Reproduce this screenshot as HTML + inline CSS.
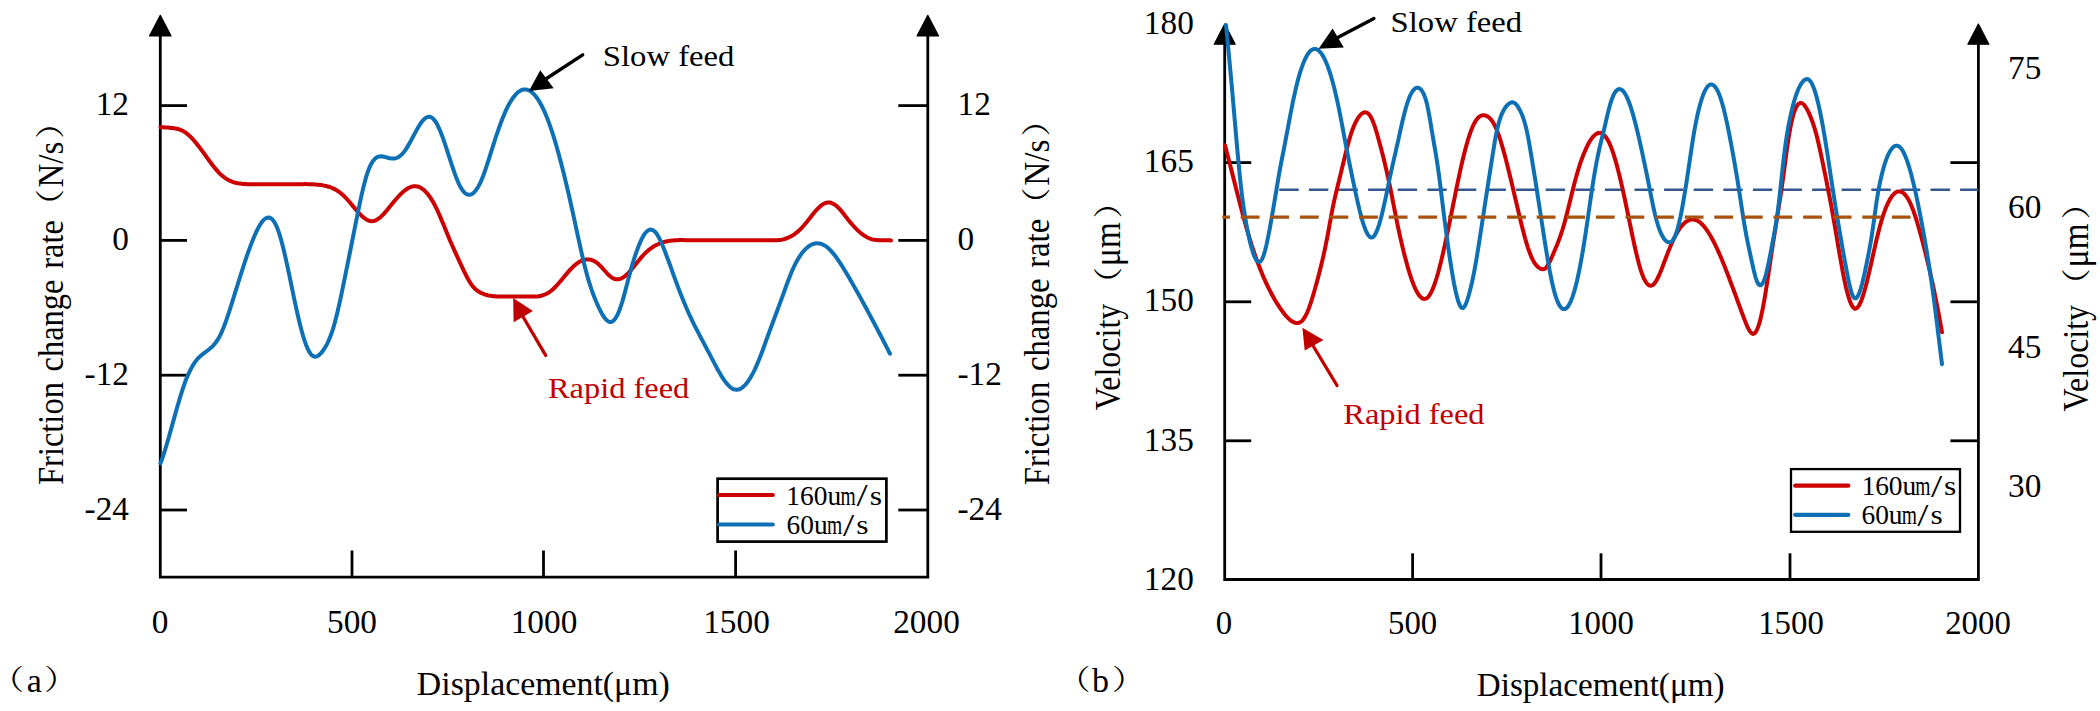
<!DOCTYPE html><html><head><meta charset="utf-8"><title>Figure</title>
<style>html,body{margin:0;padding:0;background:#fff}svg{display:block}</style></head><body>
<svg width="2100" height="711" viewBox="0 0 2100 711" font-family='"Liberation Serif","Noto Serif CJK SC",serif' fill="#000">
<rect width="2100" height="711" fill="#fff"/>
<g id="chart-a">
<path d="M160.3,30 V577.2 H927.8 V30" fill="none" stroke="#000" stroke-width="2.8" stroke-linejoin="miter"/>
<path d="M160.3,15.3 L149.5,36 H171.10000000000002 Z" fill="#000" stroke="#000" stroke-width="1.2" stroke-linejoin="round"/>
<path d="M927.8,15.3 L917.0,36 H938.5999999999999 Z" fill="#000" stroke="#000" stroke-width="1.2" stroke-linejoin="round"/>
<line x1="160.3" y1="105.6" x2="187.0" y2="105.6" stroke="#000" stroke-width="2.8" />
<line x1="898.3" y1="105.6" x2="927.8" y2="105.6" stroke="#000" stroke-width="2.8" />
<line x1="160.3" y1="240.4" x2="187.0" y2="240.4" stroke="#000" stroke-width="2.8" />
<line x1="898.3" y1="240.4" x2="927.8" y2="240.4" stroke="#000" stroke-width="2.8" />
<line x1="160.3" y1="375.2" x2="187.0" y2="375.2" stroke="#000" stroke-width="2.8" />
<line x1="898.3" y1="375.2" x2="927.8" y2="375.2" stroke="#000" stroke-width="2.8" />
<line x1="160.3" y1="510" x2="187.0" y2="510" stroke="#000" stroke-width="2.8" />
<line x1="898.3" y1="510" x2="927.8" y2="510" stroke="#000" stroke-width="2.8" />
<line x1="352" y1="550.5" x2="352" y2="577.2" stroke="#000" stroke-width="2.8" />
<line x1="543.5" y1="550.5" x2="543.5" y2="577.2" stroke="#000" stroke-width="2.8" />
<line x1="735.6" y1="550.5" x2="735.6" y2="577.2" stroke="#000" stroke-width="2.8" />
<path d="M160.5,127.3 L162.0,127.3 L163.5,127.3 L165.0,127.4 L166.5,127.5 L168.0,127.6 L169.5,127.7 L171.0,127.9 L172.5,128.0 L174.0,128.3 L175.5,128.5 L177.0,128.8 L178.5,129.2 L180.0,129.7 L181.5,130.3 L183.0,131.1 L184.5,131.9 L186.0,132.9 L187.5,134.1 L189.0,135.4 L190.5,136.8 L192.0,138.4 L193.5,140.0 L195.0,141.7 L196.5,143.6 L198.0,145.4 L199.5,147.4 L201.0,149.4 L202.5,151.4 L204.0,153.4 L205.5,155.5 L207.0,157.6 L208.5,159.7 L210.0,161.7 L211.5,163.7 L213.0,165.7 L214.5,167.6 L216.0,169.4 L217.5,171.1 L219.0,172.8 L220.5,174.3 L222.0,175.6 L223.5,176.8 L225.0,178.0 L226.5,178.9 L228.0,179.8 L229.5,180.6 L231.0,181.2 L232.5,181.8 L234.0,182.3 L235.5,182.8 L237.0,183.1 L238.5,183.4 L240.0,183.6 L241.5,183.8 L243.0,184.0 L244.5,184.1 L246.0,184.1 L247.5,184.2 L249.0,184.2 L250.5,184.2 L252.0,184.2 L253.5,184.2 L255.0,184.2 L256.5,184.2 L258.0,184.2 L259.5,184.2 L261.0,184.2 L262.5,184.2 L264.0,184.2 L265.5,184.2 L267.0,184.2 L268.5,184.2 L270.0,184.2 L271.5,184.2 L273.0,184.2 L274.5,184.2 L276.0,184.2 L277.5,184.2 L279.0,184.2 L280.5,184.2 L282.0,184.2 L283.5,184.2 L285.0,184.2 L286.5,184.2 L288.0,184.2 L289.5,184.2 L291.0,184.2 L292.5,184.2 L294.0,184.2 L295.5,184.2 L297.0,184.2 L298.5,184.2 L300.0,184.2 L301.5,184.2 L303.0,184.2 L304.5,184.1 L306.0,184.1 L307.5,184.2 L309.0,184.2 L310.5,184.2 L312.0,184.3 L313.5,184.3 L315.0,184.4 L316.5,184.6 L318.0,184.7 L319.5,184.9 L321.0,185.1 L322.5,185.3 L324.0,185.6 L325.5,185.9 L327.0,186.3 L328.5,186.7 L330.0,187.2 L331.5,187.7 L333.0,188.4 L334.5,189.1 L336.0,189.9 L337.5,190.8 L339.0,191.8 L340.5,192.9 L342.0,194.2 L343.5,195.5 L345.0,197.0 L346.5,198.6 L348.0,200.3 L349.5,202.0 L351.0,203.8 L352.5,205.6 L354.0,207.4 L355.5,209.2 L357.0,211.0 L358.5,212.6 L360.0,214.2 L361.5,215.7 L363.0,217.0 L364.5,218.2 L366.0,219.2 L367.5,220.1 L369.0,220.7 L370.5,221.0 L372.0,221.2 L373.5,221.0 L375.0,220.6 L376.5,219.9 L378.0,219.0 L379.5,217.9 L381.0,216.7 L382.5,215.2 L384.0,213.6 L385.5,211.9 L387.0,210.2 L388.5,208.3 L390.0,206.5 L391.5,204.6 L393.0,202.8 L394.5,201.0 L396.0,199.2 L397.5,197.5 L399.0,195.9 L400.5,194.3 L402.0,192.9 L403.5,191.5 L405.0,190.3 L406.5,189.2 L408.0,188.3 L409.5,187.5 L411.0,186.9 L412.5,186.4 L414.0,186.2 L415.5,186.2 L417.0,186.4 L418.5,186.8 L420.0,187.4 L421.5,188.3 L423.0,189.3 L424.5,190.6 L426.0,192.1 L427.5,193.8 L429.0,195.7 L430.5,197.9 L432.0,200.2 L433.5,202.8 L435.0,205.6 L436.5,208.5 L438.0,211.7 L439.5,215.1 L441.0,218.6 L442.5,222.2 L444.0,225.8 L445.5,229.5 L447.0,233.2 L448.5,236.8 L450.0,240.4 L451.5,243.8 L453.0,247.3 L454.5,250.6 L456.0,253.9 L457.5,257.2 L459.0,260.5 L460.5,263.7 L462.0,266.9 L463.5,270.1 L465.0,273.2 L466.5,276.2 L468.0,279.0 L469.5,281.6 L471.0,283.9 L472.5,286.0 L474.0,287.8 L475.5,289.2 L477.0,290.5 L478.5,291.5 L480.0,292.4 L481.5,293.1 L483.0,293.7 L484.5,294.3 L486.0,294.8 L487.5,295.2 L489.0,295.5 L490.5,295.8 L492.0,296.0 L493.5,296.2 L495.0,296.3 L496.5,296.4 L498.0,296.5 L499.5,296.5 L501.0,296.5 L502.5,296.5 L504.0,296.5 L505.5,296.5 L507.0,296.5 L508.5,296.5 L510.0,296.4 L511.5,296.4 L513.0,296.4 L514.5,296.4 L516.0,296.4 L517.5,296.4 L519.0,296.4 L520.5,296.4 L522.0,296.4 L523.5,296.4 L525.0,296.5 L526.5,296.5 L528.0,296.6 L529.5,296.6 L531.0,296.6 L532.5,296.6 L534.0,296.6 L535.5,296.6 L537.0,296.4 L538.5,296.3 L540.0,296.0 L541.5,295.7 L543.0,295.2 L544.5,294.7 L546.0,294.0 L547.5,293.3 L549.0,292.3 L550.5,291.3 L552.0,290.1 L553.5,288.7 L555.0,287.3 L556.5,285.7 L558.0,284.0 L559.5,282.3 L561.0,280.6 L562.5,278.8 L564.0,276.9 L565.5,275.1 L567.0,273.4 L568.5,271.6 L570.0,269.9 L571.5,268.3 L573.0,266.8 L574.5,265.5 L576.0,264.2 L577.5,263.1 L579.0,262.1 L580.5,261.3 L582.0,260.6 L583.5,260.0 L585.0,259.7 L586.5,259.4 L588.0,259.4 L589.5,259.5 L591.0,259.8 L592.5,260.3 L594.0,261.0 L595.5,261.8 L597.0,262.9 L598.5,264.1 L600.0,265.6 L601.5,267.2 L603.0,268.8 L604.5,270.5 L606.0,272.2 L607.5,273.8 L609.0,275.3 L610.5,276.6 L612.0,277.7 L613.5,278.5 L615.0,279.0 L616.5,279.3 L618.0,279.3 L619.5,279.1 L621.0,278.6 L622.5,277.8 L624.0,276.8 L625.5,275.7 L627.0,274.3 L628.5,272.8 L630.0,271.2 L631.5,269.5 L633.0,267.7 L634.5,265.8 L636.0,264.0 L637.5,262.1 L639.0,260.2 L640.5,258.4 L642.0,256.6 L643.5,255.0 L645.0,253.4 L646.5,252.0 L648.0,250.6 L649.5,249.4 L651.0,248.3 L652.5,247.2 L654.0,246.3 L655.5,245.4 L657.0,244.7 L658.5,244.0 L660.0,243.3 L661.5,242.8 L663.0,242.3 L664.5,241.9 L666.0,241.5 L667.5,241.2 L669.0,240.9 L670.5,240.7 L672.0,240.5 L673.5,240.4 L675.0,240.3 L676.5,240.2 L678.0,240.2 L679.5,240.1 L681.0,240.1 L682.5,240.1 L684.0,240.1 L685.5,240.2 L687.0,240.2 L688.5,240.2 L690.0,240.2 L691.5,240.2 L693.0,240.2 L694.5,240.3 L696.0,240.3 L697.5,240.3 L699.0,240.2 L700.5,240.2 L702.0,240.2 L703.5,240.2 L705.0,240.2 L706.5,240.2 L708.0,240.2 L709.5,240.2 L711.0,240.2 L712.5,240.2 L714.0,240.2 L715.5,240.2 L717.0,240.2 L718.5,240.2 L720.0,240.2 L721.5,240.2 L723.0,240.2 L724.5,240.2 L726.0,240.2 L727.5,240.2 L729.0,240.2 L730.5,240.2 L732.0,240.2 L733.5,240.2 L735.0,240.2 L736.5,240.2 L738.0,240.2 L739.5,240.2 L741.0,240.2 L742.5,240.2 L744.0,240.2 L745.5,240.2 L747.0,240.2 L748.5,240.2 L750.0,240.2 L751.5,240.2 L753.0,240.2 L754.5,240.2 L756.0,240.2 L757.5,240.2 L759.0,240.2 L760.5,240.2 L762.0,240.2 L763.5,240.2 L765.0,240.2 L766.5,240.2 L768.0,240.2 L769.5,240.2 L771.0,240.2 L772.5,240.2 L774.0,240.3 L775.5,240.2 L777.0,240.2 L778.5,240.1 L780.0,239.9 L781.5,239.7 L783.0,239.4 L784.5,239.0 L786.0,238.5 L787.5,238.0 L789.0,237.3 L790.5,236.6 L792.0,235.8 L793.5,234.8 L795.0,233.8 L796.5,232.6 L798.0,231.4 L799.5,230.1 L801.0,228.6 L802.5,227.0 L804.0,225.3 L805.5,223.5 L807.0,221.7 L808.5,219.8 L810.0,217.9 L811.5,216.0 L813.0,214.1 L814.5,212.3 L816.0,210.5 L817.5,208.9 L819.0,207.4 L820.5,206.1 L822.0,204.9 L823.5,203.9 L825.0,203.2 L826.5,202.7 L828.0,202.5 L829.5,202.5 L831.0,202.8 L832.5,203.4 L834.0,204.2 L835.5,205.2 L837.0,206.4 L838.5,207.8 L840.0,209.4 L841.5,211.2 L843.0,213.1 L844.5,215.0 L846.0,216.9 L847.5,218.9 L849.0,220.8 L850.5,222.6 L852.0,224.3 L853.5,226.0 L855.0,227.6 L856.5,229.1 L858.0,230.6 L859.5,232.0 L861.0,233.2 L862.5,234.4 L864.0,235.5 L865.5,236.4 L867.0,237.3 L868.5,238.0 L870.0,238.7 L871.5,239.2 L873.0,239.6 L874.5,239.8 L876.0,240.0 L877.5,240.1 L879.0,240.2 L880.5,240.2 L882.0,240.2 L883.5,240.2 L885.0,240.2 L886.5,240.2 L888.0,240.2 L889.5,240.3 L891.0,240.4" fill="none" stroke="#CC0000" stroke-width="4.0" stroke-linecap="round" stroke-linejoin="round"/>
<path d="M160.5,463.4 L162.0,459.3 L163.5,454.8 L165.0,450.1 L166.5,445.2 L168.0,440.1 L169.5,434.8 L171.0,429.4 L172.5,424.0 L174.0,418.6 L175.5,413.2 L177.0,407.9 L178.5,402.7 L180.0,397.6 L181.5,392.8 L183.0,388.2 L184.5,383.8 L186.0,379.8 L187.5,376.1 L189.0,372.8 L190.5,369.7 L192.0,366.9 L193.5,364.4 L195.0,362.1 L196.5,360.1 L198.0,358.4 L199.5,356.9 L201.0,355.5 L202.5,354.3 L204.0,353.2 L205.5,352.1 L207.0,351.0 L208.5,349.8 L210.0,348.6 L211.5,347.3 L213.0,345.8 L214.5,344.1 L216.0,342.2 L217.5,340.0 L219.0,337.5 L220.5,334.6 L222.0,331.3 L223.5,327.7 L225.0,323.8 L226.5,319.6 L228.0,315.2 L229.5,310.6 L231.0,305.9 L232.5,301.1 L234.0,296.3 L235.5,291.4 L237.0,286.6 L238.5,281.8 L240.0,277.0 L241.5,272.3 L243.0,267.6 L244.5,263.0 L246.0,258.5 L247.5,254.2 L249.0,249.9 L250.5,245.9 L252.0,241.9 L253.5,238.2 L255.0,234.7 L256.5,231.4 L258.0,228.4 L259.5,225.7 L261.0,223.3 L262.5,221.3 L264.0,219.6 L265.5,218.5 L267.0,217.7 L268.5,217.5 L270.0,217.8 L271.5,218.7 L273.0,220.2 L274.5,222.3 L276.0,225.1 L277.5,228.6 L279.0,232.8 L280.5,237.7 L282.0,243.1 L283.5,249.0 L285.0,255.4 L286.5,262.1 L288.0,269.0 L289.5,276.1 L291.0,283.4 L292.5,290.6 L294.0,297.8 L295.5,304.9 L297.0,311.7 L298.5,318.3 L300.0,324.5 L301.5,330.3 L303.0,335.6 L304.5,340.4 L306.0,344.7 L307.5,348.3 L309.0,351.4 L310.5,353.7 L312.0,355.4 L313.5,356.3 L315.0,356.7 L316.5,356.5 L318.0,355.8 L319.5,354.7 L321.0,353.2 L322.5,351.4 L324.0,349.2 L325.5,346.8 L327.0,344.1 L328.5,340.9 L330.0,337.4 L331.5,333.3 L333.0,328.8 L334.5,323.7 L336.0,318.1 L337.5,312.0 L339.0,305.4 L340.5,298.6 L342.0,291.5 L343.5,284.2 L345.0,276.8 L346.5,269.4 L348.0,262.0 L349.5,254.5 L351.0,247.0 L352.5,239.4 L354.0,231.9 L355.5,224.4 L357.0,216.9 L358.5,209.5 L360.0,202.3 L361.5,195.4 L363.0,188.9 L364.5,182.9 L366.0,177.4 L367.5,172.6 L369.0,168.6 L370.5,165.2 L372.0,162.5 L373.5,160.4 L375.0,158.7 L376.5,157.6 L378.0,156.8 L379.5,156.4 L381.0,156.3 L382.5,156.4 L384.0,156.7 L385.5,157.1 L387.0,157.5 L388.5,158.0 L390.0,158.3 L391.5,158.6 L393.0,158.6 L394.5,158.5 L396.0,158.1 L397.5,157.6 L399.0,156.7 L400.5,155.6 L402.0,154.2 L403.5,152.6 L405.0,150.6 L406.5,148.4 L408.0,145.9 L409.5,143.3 L411.0,140.6 L412.5,137.7 L414.0,134.9 L415.5,132.1 L417.0,129.4 L418.5,126.8 L420.0,124.4 L421.5,122.2 L423.0,120.4 L424.5,118.8 L426.0,117.7 L427.5,117.0 L429.0,116.7 L430.5,117.0 L432.0,117.8 L433.5,119.1 L435.0,120.9 L436.5,123.2 L438.0,126.1 L439.5,129.3 L441.0,133.0 L442.5,136.9 L444.0,141.1 L445.5,145.6 L447.0,150.1 L448.5,154.8 L450.0,159.4 L451.5,164.0 L453.0,168.5 L454.5,172.8 L456.0,176.9 L457.5,180.7 L459.0,184.1 L460.5,187.1 L462.0,189.5 L463.5,191.5 L465.0,193.1 L466.5,194.1 L468.0,194.7 L469.5,194.8 L471.0,194.5 L472.5,193.7 L474.0,192.5 L475.5,190.8 L477.0,188.7 L478.5,186.2 L480.0,183.3 L481.5,180.0 L483.0,176.3 L484.5,172.2 L486.0,167.9 L487.5,163.4 L489.0,158.7 L490.5,153.9 L492.0,149.2 L493.5,144.4 L495.0,139.7 L496.5,135.2 L498.0,130.8 L499.5,126.5 L501.0,122.4 L502.5,118.6 L504.0,114.9 L505.5,111.4 L507.0,108.2 L508.5,105.2 L510.0,102.5 L511.5,100.1 L513.0,97.8 L514.5,95.9 L516.0,94.2 L517.5,92.7 L519.0,91.5 L520.5,90.6 L522.0,89.9 L523.5,89.5 L525.0,89.4 L526.5,89.6 L528.0,90.0 L529.5,90.6 L531.0,91.6 L532.5,92.8 L534.0,94.3 L535.5,96.0 L537.0,98.0 L538.5,100.2 L540.0,102.7 L541.5,105.5 L543.0,108.5 L544.5,111.7 L546.0,115.2 L547.5,118.9 L549.0,122.9 L550.5,127.1 L552.0,131.6 L553.5,136.2 L555.0,141.1 L556.5,146.2 L558.0,151.6 L559.5,157.1 L561.0,162.7 L562.5,168.6 L564.0,174.6 L565.5,180.7 L567.0,187.0 L568.5,193.5 L570.0,200.0 L571.5,206.7 L573.0,213.5 L574.5,220.4 L576.0,227.3 L577.5,234.3 L579.0,241.2 L580.5,248.0 L582.0,254.7 L583.5,261.1 L585.0,267.2 L586.5,273.0 L588.0,278.4 L589.5,283.4 L591.0,288.0 L592.5,292.3 L594.0,296.3 L595.5,300.0 L597.0,303.6 L598.5,306.9 L600.0,310.0 L601.5,312.9 L603.0,315.5 L604.5,317.7 L606.0,319.5 L607.5,320.9 L609.0,321.8 L610.5,322.0 L612.0,321.7 L613.5,320.7 L615.0,319.0 L616.5,316.7 L618.0,313.7 L619.5,310.0 L621.0,305.7 L622.5,300.9 L624.0,295.6 L625.5,290.0 L627.0,284.3 L628.5,278.6 L630.0,272.9 L631.5,267.5 L633.0,262.3 L634.5,257.6 L636.0,253.1 L637.5,249.0 L639.0,245.1 L640.5,241.6 L642.0,238.4 L643.5,235.7 L645.0,233.5 L646.5,231.7 L648.0,230.5 L649.5,229.8 L651.0,229.6 L652.5,230.0 L654.0,230.9 L655.5,232.3 L657.0,234.3 L658.5,236.8 L660.0,239.7 L661.5,243.0 L663.0,246.5 L664.5,250.3 L666.0,254.2 L667.5,258.2 L669.0,262.3 L670.5,266.4 L672.0,270.6 L673.5,274.8 L675.0,278.9 L676.5,283.0 L678.0,287.1 L679.5,291.0 L681.0,294.8 L682.5,298.6 L684.0,302.3 L685.5,305.8 L687.0,309.3 L688.5,312.7 L690.0,316.0 L691.5,319.2 L693.0,322.3 L694.5,325.3 L696.0,328.3 L697.5,331.2 L699.0,334.1 L700.5,337.0 L702.0,339.8 L703.5,342.6 L705.0,345.4 L706.5,348.3 L708.0,351.1 L709.5,353.9 L711.0,356.8 L712.5,359.7 L714.0,362.6 L715.5,365.4 L717.0,368.2 L718.5,371.0 L720.0,373.6 L721.5,376.1 L723.0,378.4 L724.5,380.6 L726.0,382.6 L727.5,384.4 L729.0,386.0 L730.5,387.4 L732.0,388.4 L733.5,389.2 L735.0,389.6 L736.5,389.8 L738.0,389.6 L739.5,389.2 L741.0,388.4 L742.5,387.4 L744.0,386.1 L745.5,384.6 L747.0,382.8 L748.5,380.7 L750.0,378.4 L751.5,375.8 L753.0,373.1 L754.5,370.1 L756.0,366.8 L757.5,363.4 L759.0,359.8 L760.5,356.0 L762.0,352.0 L763.5,348.0 L765.0,343.9 L766.5,339.7 L768.0,335.5 L769.5,331.4 L771.0,327.3 L772.5,323.2 L774.0,319.2 L775.5,315.2 L777.0,311.2 L778.5,307.1 L780.0,303.1 L781.5,299.0 L783.0,294.8 L784.5,290.7 L786.0,286.5 L787.5,282.5 L789.0,278.5 L790.5,274.7 L792.0,271.1 L793.5,267.7 L795.0,264.6 L796.5,261.7 L798.0,259.0 L799.5,256.6 L801.0,254.4 L802.5,252.4 L804.0,250.7 L805.5,249.1 L807.0,247.7 L808.5,246.5 L810.0,245.5 L811.5,244.6 L813.0,244.0 L814.5,243.6 L816.0,243.3 L817.5,243.3 L819.0,243.4 L820.5,243.7 L822.0,244.2 L823.5,244.9 L825.0,245.7 L826.5,246.7 L828.0,248.0 L829.5,249.3 L831.0,250.9 L832.5,252.6 L834.0,254.4 L835.5,256.3 L837.0,258.4 L838.5,260.6 L840.0,262.8 L841.5,265.1 L843.0,267.5 L844.5,270.0 L846.0,272.5 L847.5,275.0 L849.0,277.6 L850.5,280.1 L852.0,282.7 L853.5,285.4 L855.0,288.0 L856.5,290.7 L858.0,293.3 L859.5,296.0 L861.0,298.8 L862.5,301.5 L864.0,304.2 L865.5,307.0 L867.0,309.8 L868.5,312.6 L870.0,315.4 L871.5,318.2 L873.0,321.0 L874.5,323.9 L876.0,326.7 L877.5,329.6 L879.0,332.5 L880.5,335.3 L882.0,338.2 L883.5,341.1 L885.0,344.0 L886.5,346.9 L888.0,349.9 L889.5,352.8 L890.0,353.7" fill="none" stroke="#0E70B4" stroke-width="4.0" stroke-linecap="round" stroke-linejoin="round"/>
<text transform="translate(129,115.3) scale(1.0,1)" font-size="33.3" text-anchor="end" >12</text>
<text transform="translate(957.5,115.3) scale(1.0,1)" font-size="33.3" text-anchor="start" >12</text>
<text transform="translate(129,250.1) scale(1.0,1)" font-size="33.3" text-anchor="end" >0</text>
<text transform="translate(957.5,250.1) scale(1.0,1)" font-size="33.3" text-anchor="start" >0</text>
<text transform="translate(129,384.9) scale(1.0,1)" font-size="33.3" text-anchor="end" >-12</text>
<text transform="translate(957.5,384.9) scale(1.0,1)" font-size="33.3" text-anchor="start" >-12</text>
<text transform="translate(129,519.7) scale(1.0,1)" font-size="33.3" text-anchor="end" >-24</text>
<text transform="translate(957.5,519.7) scale(1.0,1)" font-size="33.3" text-anchor="start" >-24</text>
<text transform="translate(160,632.6) scale(1.0,1)" font-size="33.3" text-anchor="middle" >0</text>
<text transform="translate(352,632.6) scale(1.0,1)" font-size="33.3" text-anchor="middle" >500</text>
<text transform="translate(544,632.6) scale(1.0,1)" font-size="33.3" text-anchor="middle" >1000</text>
<text transform="translate(736.5,632.6) scale(1.0,1)" font-size="33.3" text-anchor="middle" >1500</text>
<text transform="translate(926.5,632.6) scale(1.0,1)" font-size="33.3" text-anchor="middle" >2000</text>
<text transform="translate(543.3,695.2) scale(1.016,1)" font-size="33.3" text-anchor="middle" >Displacement(μm)</text>
<text font-size="34" aria-label="（a）"><tspan x="-8.9" y="689.7" font-family='"Noto Serif CJK SC","Liberation Serif",serif' font-size="28.2" textLength="33" lengthAdjust="spacingAndGlyphs">（</tspan><tspan x="26.8" y="692">a</tspan><tspan x="44.3" y="689.7" font-family='"Noto Serif CJK SC","Liberation Serif",serif' font-size="28.2" textLength="33" lengthAdjust="spacingAndGlyphs">）</tspan></text>
<text transform="translate(62.8,485) rotate(-90) scale(1,1.1)" font-size="32.5" word-spacing="2.5" aria-label="Friction change rate（N/s）"><tspan x="0" y="0">Friction change rate</tspan><tspan x="263" y="-1.2" font-family='"Noto Serif CJK SC","Liberation Serif",serif' font-size="26.5" textLength="33" lengthAdjust="spacingAndGlyphs">（</tspan><tspan x="297.5" y="0" font-size="33">N/s</tspan><tspan x="346.3" y="-1.2" font-family='"Noto Serif CJK SC","Liberation Serif",serif' font-size="26.5" textLength="33" lengthAdjust="spacingAndGlyphs">）</tspan></text>
<text transform="translate(1048.8,485.3) rotate(-90) scale(1,1.1)" font-size="32.72" word-spacing="2.5" aria-label="Friction change rate（N/s）"><tspan x="0" y="0">Friction change rate</tspan><tspan x="264.9" y="-1.2" font-family='"Noto Serif CJK SC","Liberation Serif",serif' font-size="26.5" textLength="33" lengthAdjust="spacingAndGlyphs">（</tspan><tspan x="299.6" y="0" font-size="33.2">N/s</tspan><tspan x="348.7" y="-1.2" font-family='"Noto Serif CJK SC","Liberation Serif",serif' font-size="26.5" textLength="33" lengthAdjust="spacingAndGlyphs">）</tspan></text>
<text transform="translate(602.8,66.4) scale(1.075,1)" font-size="30.4" text-anchor="start" >Slow feed</text>
<path d="M582.7,54.9 L545,79.5" stroke="#000" stroke-width="3.4" fill="none" stroke-linecap="round"/>
<path d="M529,90.9 L540.2,70.3 L553.7,88.3 Z" fill="#000"/>
<text transform="translate(548,397.6) scale(1.07,1)" font-size="30.3" text-anchor="start" fill="#C00000" >Rapid feed</text>
<path d="M545.7,355.4 L522,315" stroke="#C00000" stroke-width="3.3" fill="none" stroke-linecap="round"/>
<path d="M513.2,298.1 L513.6,322.3 L532.9,311.1 Z" fill="#C00000"/>
<rect x="717.6" y="478.7" width="168.8" height="62.9" fill="#fff" stroke="#000" stroke-width="2.7"/>
<line x1="719" y1="495" x2="772.8" y2="495" stroke="#CC0000" stroke-width="4.2" stroke-linecap="round"/>
<line x1="719" y1="524.5" x2="772.8" y2="524.5" stroke="#0E70B4" stroke-width="4.2" stroke-linecap="round"/>
<text y="504.9" font-size="27.4" text-anchor="middle" aria-label="160um/s"><tspan x="793.0">1</tspan><tspan x="806.8">6</tspan><tspan x="820.6">0</tspan><tspan x="834.4">u</tspan><tspan x="848.2" textLength="15.2" lengthAdjust="spacingAndGlyphs">m</tspan><tspan x="862.0" font-size="30.5" textLength="11.2" lengthAdjust="spacingAndGlyphs" dy="1.4">/</tspan><tspan x="875.8" textLength="12.3" lengthAdjust="spacingAndGlyphs" dy="-1.4">s</tspan></text>
<text y="534.1" font-size="27.4" text-anchor="middle" aria-label="60um/s"><tspan x="793.3">6</tspan><tspan x="807.1">0</tspan><tspan x="820.9">u</tspan><tspan x="834.7" textLength="15.2" lengthAdjust="spacingAndGlyphs">m</tspan><tspan x="848.5" font-size="30.5" textLength="11.2" lengthAdjust="spacingAndGlyphs" dy="1.4">/</tspan><tspan x="862.3" textLength="12.3" lengthAdjust="spacingAndGlyphs" dy="-1.4">s</tspan></text>
</g>
<g id="chart-b">
<path d="M1224.7,40 V579.5 H1978.4 V40" fill="none" stroke="#000" stroke-width="2.8" stroke-linejoin="miter"/>
<path d="M1224.7,24.1 L1214.2,44.2 H1235.2 Z" fill="#000" stroke="#000" stroke-width="1.2" stroke-linejoin="round"/>
<path d="M1978.4,24.1 L1967.9,44.2 H1988.9 Z" fill="#000" stroke="#000" stroke-width="1.2" stroke-linejoin="round"/>
<line x1="1224.7" y1="162.6" x2="1251.2" y2="162.6" stroke="#000" stroke-width="2.8" />
<line x1="1950.4" y1="162.6" x2="1978.4" y2="162.6" stroke="#000" stroke-width="2.8" />
<line x1="1224.7" y1="301.8" x2="1251.2" y2="301.8" stroke="#000" stroke-width="2.8" />
<line x1="1950.4" y1="301.8" x2="1978.4" y2="301.8" stroke="#000" stroke-width="2.8" />
<line x1="1224.7" y1="440.8" x2="1251.2" y2="440.8" stroke="#000" stroke-width="2.8" />
<line x1="1950.4" y1="440.8" x2="1978.4" y2="440.8" stroke="#000" stroke-width="2.8" />
<line x1="1412.6" y1="553.3" x2="1412.6" y2="579.5" stroke="#000" stroke-width="2.8" />
<line x1="1601" y1="553.3" x2="1601" y2="579.5" stroke="#000" stroke-width="2.8" />
<line x1="1790" y1="553.3" x2="1790" y2="579.5" stroke="#000" stroke-width="2.8" />
<line x1="1279.3" y1="189.8" x2="1978.4" y2="189.8" stroke="#35568F" stroke-width="2.6" stroke-dasharray="19.4 10.2"/>
<path d="M1225.0,145.3 L1226.5,151.0 L1228.0,156.8 L1229.5,162.6 L1231.0,168.5 L1232.5,174.5 L1234.0,180.4 L1235.5,186.3 L1237.0,192.2 L1238.5,198.1 L1240.0,203.9 L1241.5,209.6 L1243.0,215.2 L1244.5,220.7 L1246.0,226.1 L1247.5,231.4 L1249.0,236.4 L1250.5,241.3 L1252.0,246.1 L1253.5,250.6 L1255.0,255.0 L1256.5,259.3 L1258.0,263.4 L1259.5,267.3 L1261.0,271.1 L1262.5,274.7 L1264.0,278.2 L1265.5,281.6 L1267.0,284.8 L1268.5,287.9 L1270.0,290.9 L1271.5,293.8 L1273.0,296.5 L1274.5,299.2 L1276.0,301.7 L1277.5,304.1 L1279.0,306.4 L1280.5,308.7 L1282.0,310.8 L1283.5,312.8 L1285.0,314.7 L1286.5,316.4 L1288.0,318.0 L1289.5,319.4 L1291.0,320.7 L1292.5,321.6 L1294.0,322.4 L1295.5,322.9 L1297.0,323.1 L1298.5,322.9 L1300.0,322.3 L1301.5,321.3 L1303.0,319.8 L1304.5,317.7 L1306.0,315.0 L1307.5,311.8 L1309.0,308.0 L1310.5,303.7 L1312.0,299.0 L1313.5,294.0 L1315.0,288.8 L1316.5,283.4 L1318.0,277.9 L1319.5,272.1 L1321.0,266.1 L1322.5,259.9 L1324.0,253.3 L1325.5,246.2 L1327.0,238.7 L1328.5,230.6 L1330.0,222.3 L1331.5,214.1 L1333.0,206.4 L1334.5,199.4 L1336.0,193.0 L1337.5,186.8 L1339.0,180.8 L1340.5,174.6 L1342.0,168.3 L1343.5,162.1 L1345.0,155.9 L1346.5,149.9 L1348.0,144.2 L1349.5,138.9 L1351.0,134.0 L1352.5,129.6 L1354.0,125.8 L1355.5,122.5 L1357.0,119.7 L1358.5,117.3 L1360.0,115.4 L1361.5,113.9 L1363.0,112.9 L1364.5,112.3 L1366.0,112.4 L1367.5,113.0 L1369.0,114.3 L1370.5,116.4 L1372.0,119.2 L1373.5,122.9 L1375.0,127.2 L1376.5,132.0 L1378.0,137.2 L1379.5,142.7 L1381.0,148.3 L1382.5,154.1 L1384.0,160.1 L1385.5,166.4 L1387.0,172.8 L1388.5,179.5 L1390.0,186.6 L1391.5,194.1 L1393.0,201.8 L1394.5,209.5 L1396.0,217.2 L1397.5,224.5 L1399.0,231.6 L1400.5,238.4 L1402.0,244.9 L1403.5,251.1 L1405.0,257.0 L1406.5,262.6 L1408.0,268.0 L1409.5,273.0 L1411.0,277.6 L1412.5,281.8 L1414.0,285.7 L1415.5,289.1 L1417.0,292.0 L1418.5,294.5 L1420.0,296.4 L1421.5,297.8 L1423.0,298.7 L1424.5,298.9 L1426.0,298.6 L1427.5,297.6 L1429.0,296.0 L1430.5,293.6 L1432.0,290.7 L1433.5,287.1 L1435.0,283.0 L1436.5,278.3 L1438.0,273.2 L1439.5,267.6 L1441.0,261.7 L1442.5,255.4 L1444.0,248.9 L1445.5,242.0 L1447.0,235.0 L1448.5,227.8 L1450.0,220.4 L1451.5,213.0 L1453.0,205.5 L1454.5,198.1 L1456.0,190.7 L1457.5,183.4 L1459.0,176.3 L1460.5,169.4 L1462.0,162.8 L1463.5,156.5 L1465.0,150.5 L1466.5,145.0 L1468.0,139.8 L1469.5,135.0 L1471.0,130.8 L1472.5,127.0 L1474.0,123.8 L1475.5,121.2 L1477.0,119.0 L1478.5,117.4 L1480.0,116.2 L1481.5,115.5 L1483.0,115.2 L1484.5,115.3 L1486.0,115.7 L1487.5,116.4 L1489.0,117.5 L1490.5,118.9 L1492.0,120.8 L1493.5,123.1 L1495.0,126.0 L1496.5,129.3 L1498.0,133.1 L1499.5,137.4 L1501.0,142.1 L1502.5,147.1 L1504.0,152.5 L1505.5,158.1 L1507.0,163.9 L1508.5,169.9 L1510.0,176.0 L1511.5,182.3 L1513.0,188.6 L1514.5,195.0 L1516.0,201.4 L1517.5,207.8 L1519.0,214.1 L1520.5,220.3 L1522.0,226.4 L1523.5,232.3 L1525.0,237.9 L1526.5,243.1 L1528.0,247.9 L1529.5,252.3 L1531.0,256.1 L1532.5,259.4 L1534.0,262.1 L1535.5,264.3 L1537.0,266.1 L1538.5,267.4 L1540.0,268.5 L1541.5,269.1 L1543.0,269.3 L1544.5,269.0 L1546.0,267.8 L1547.5,265.8 L1549.0,263.2 L1550.5,260.1 L1552.0,256.7 L1553.5,253.3 L1555.0,249.8 L1556.5,246.2 L1558.0,242.4 L1559.5,238.4 L1561.0,234.1 L1562.5,229.5 L1564.0,224.5 L1565.5,219.1 L1567.0,213.3 L1568.5,207.3 L1570.0,201.2 L1571.5,195.1 L1573.0,189.0 L1574.5,183.1 L1576.0,177.5 L1577.5,172.2 L1579.0,167.3 L1580.5,162.7 L1582.0,158.5 L1583.5,154.5 L1585.0,150.9 L1586.5,147.6 L1588.0,144.5 L1589.5,141.8 L1591.0,139.4 L1592.5,137.4 L1594.0,135.7 L1595.5,134.4 L1597.0,133.5 L1598.5,133.0 L1600.0,132.9 L1601.5,133.3 L1603.0,134.2 L1604.5,135.5 L1606.0,137.3 L1607.5,139.6 L1609.0,142.4 L1610.5,145.8 L1612.0,149.7 L1613.5,154.0 L1615.0,158.8 L1616.5,164.1 L1618.0,169.7 L1619.5,175.7 L1621.0,182.0 L1622.5,188.6 L1624.0,195.4 L1625.5,202.5 L1627.0,209.7 L1628.5,216.9 L1630.0,224.2 L1631.5,231.5 L1633.0,238.6 L1634.5,245.5 L1636.0,252.1 L1637.5,258.3 L1639.0,264.1 L1640.5,269.3 L1642.0,273.8 L1643.5,277.6 L1645.0,280.7 L1646.5,283.0 L1648.0,284.6 L1649.5,285.5 L1651.0,285.7 L1652.5,285.2 L1654.0,283.9 L1655.5,282.0 L1657.0,279.5 L1658.5,276.5 L1660.0,273.1 L1661.5,269.4 L1663.0,265.5 L1664.5,261.5 L1666.0,257.5 L1667.5,253.6 L1669.0,249.8 L1670.5,246.2 L1672.0,242.7 L1673.5,239.4 L1675.0,236.4 L1676.5,233.6 L1678.0,231.1 L1679.5,228.8 L1681.0,226.8 L1682.5,225.0 L1684.0,223.5 L1685.5,222.2 L1687.0,221.2 L1688.5,220.4 L1690.0,219.9 L1691.5,219.6 L1693.0,219.5 L1694.5,219.7 L1696.0,220.1 L1697.5,220.8 L1699.0,221.7 L1700.5,222.8 L1702.0,224.2 L1703.5,225.8 L1705.0,227.6 L1706.5,229.6 L1708.0,231.8 L1709.5,234.2 L1711.0,236.7 L1712.5,239.5 L1714.0,242.3 L1715.5,245.4 L1717.0,248.5 L1718.5,251.8 L1720.0,255.2 L1721.5,258.8 L1723.0,262.4 L1724.5,266.1 L1726.0,269.9 L1727.5,273.8 L1729.0,277.7 L1730.5,281.7 L1732.0,285.7 L1733.5,289.7 L1735.0,293.8 L1736.5,297.9 L1738.0,302.0 L1739.5,306.1 L1741.0,310.2 L1742.5,314.2 L1744.0,318.2 L1745.5,322.1 L1747.0,325.8 L1748.5,329.0 L1750.0,331.5 L1751.5,333.2 L1753.0,333.9 L1754.5,333.4 L1756.0,331.7 L1757.5,328.7 L1759.0,324.4 L1760.5,318.9 L1762.0,312.3 L1763.5,304.6 L1765.0,296.1 L1766.5,286.7 L1768.0,276.8 L1769.5,266.6 L1771.0,256.6 L1772.5,246.8 L1774.0,237.2 L1775.5,227.8 L1777.0,218.5 L1778.5,209.0 L1780.0,199.3 L1781.5,189.2 L1783.0,178.6 L1784.5,167.4 L1786.0,156.1 L1787.5,145.2 L1789.0,135.4 L1790.5,126.9 L1792.0,119.9 L1793.5,114.2 L1795.0,109.8 L1796.5,106.5 L1798.0,104.3 L1799.5,103.2 L1801.0,102.9 L1802.5,103.5 L1804.0,104.7 L1805.5,106.7 L1807.0,109.2 L1808.5,112.2 L1810.0,115.5 L1811.5,119.2 L1813.0,123.3 L1814.5,127.9 L1816.0,133.1 L1817.5,139.0 L1819.0,145.5 L1820.5,152.3 L1822.0,159.4 L1823.5,166.6 L1825.0,173.9 L1826.5,181.3 L1828.0,188.9 L1829.5,196.6 L1831.0,204.6 L1832.5,212.8 L1834.0,221.3 L1835.5,230.0 L1837.0,238.9 L1838.5,247.8 L1840.0,256.5 L1841.5,265.0 L1843.0,273.1 L1844.5,280.6 L1846.0,287.4 L1847.5,293.4 L1849.0,298.5 L1850.5,302.7 L1852.0,305.8 L1853.5,307.8 L1855.0,308.7 L1856.5,308.4 L1858.0,307.0 L1859.5,304.6 L1861.0,301.4 L1862.5,297.3 L1864.0,292.5 L1865.5,287.2 L1867.0,281.4 L1868.5,275.1 L1870.0,268.7 L1871.5,262.0 L1873.0,255.3 L1874.5,248.6 L1876.0,242.0 L1877.5,235.7 L1879.0,229.7 L1880.5,224.1 L1882.0,219.0 L1883.5,214.4 L1885.0,210.1 L1886.5,206.3 L1888.0,203.0 L1889.5,200.1 L1891.0,197.6 L1892.5,195.5 L1894.0,193.9 L1895.5,192.6 L1897.0,191.8 L1898.5,191.5 L1900.0,191.5 L1901.5,192.0 L1903.0,192.8 L1904.5,194.1 L1906.0,195.9 L1907.5,198.0 L1909.0,200.6 L1910.5,203.7 L1912.0,207.2 L1913.5,211.1 L1915.0,215.5 L1916.5,220.2 L1918.0,225.2 L1919.5,230.4 L1921.0,235.8 L1922.5,241.4 L1924.0,247.2 L1925.5,253.1 L1927.0,259.2 L1928.5,265.5 L1930.0,271.9 L1931.5,278.6 L1933.0,285.5 L1934.5,292.7 L1936.0,300.1 L1937.5,307.7 L1939.0,315.6 L1940.5,323.8 L1942.0,332.2" fill="none" stroke="#CC0000" stroke-width="4.0" stroke-linecap="round" stroke-linejoin="round"/>
<path d="M1226.0,24.9 L1227.5,40.4 L1229.0,56.2 L1230.5,72.2 L1232.0,88.7 L1233.5,105.8 L1235.0,123.2 L1236.5,140.5 L1238.0,157.2 L1239.5,172.9 L1241.0,187.1 L1242.5,199.4 L1244.0,209.9 L1245.5,219.4 L1247.0,227.8 L1248.5,235.2 L1250.0,241.9 L1251.5,247.7 L1253.0,252.7 L1254.5,256.7 L1256.0,259.7 L1257.5,261.5 L1259.0,262.1 L1260.5,261.4 L1262.0,259.3 L1263.5,255.7 L1265.0,250.7 L1266.5,244.7 L1268.0,237.7 L1269.5,230.0 L1271.0,221.7 L1272.5,213.1 L1274.0,204.3 L1275.5,195.3 L1277.0,186.3 L1278.5,177.3 L1280.0,168.8 L1281.5,161.0 L1283.0,153.5 L1284.5,145.8 L1286.0,137.9 L1287.5,129.9 L1289.0,121.9 L1290.5,114.0 L1292.0,106.3 L1293.5,99.0 L1295.0,92.1 L1296.5,85.7 L1298.0,79.8 L1299.5,74.4 L1301.0,69.6 L1302.5,65.3 L1304.0,61.5 L1305.5,58.2 L1307.0,55.4 L1308.5,53.1 L1310.0,51.3 L1311.5,50.0 L1313.0,49.2 L1314.5,48.9 L1316.0,49.0 L1317.5,49.7 L1319.0,50.8 L1320.5,52.3 L1322.0,54.4 L1323.5,56.9 L1325.0,59.9 L1326.5,63.3 L1328.0,67.1 L1329.5,71.5 L1331.0,76.2 L1332.5,81.5 L1334.0,87.1 L1335.5,93.2 L1337.0,99.7 L1338.5,106.7 L1340.0,114.1 L1341.5,121.9 L1343.0,129.9 L1344.5,138.0 L1346.0,145.9 L1347.5,153.6 L1349.0,161.0 L1350.5,168.3 L1352.0,175.6 L1353.5,182.8 L1355.0,189.9 L1356.5,196.8 L1358.0,203.5 L1359.5,209.9 L1361.0,215.7 L1362.5,221.1 L1364.0,225.8 L1365.5,229.8 L1367.0,233.1 L1368.5,235.5 L1370.0,237.1 L1371.5,237.6 L1373.0,237.1 L1374.5,235.5 L1376.0,232.8 L1377.5,229.3 L1379.0,224.9 L1380.5,219.7 L1382.0,213.9 L1383.5,207.6 L1385.0,200.9 L1386.5,193.8 L1388.0,186.6 L1389.5,179.3 L1391.0,172.2 L1392.5,165.5 L1394.0,158.9 L1395.5,152.4 L1397.0,145.8 L1398.5,139.1 L1400.0,132.2 L1401.5,125.5 L1403.0,119.0 L1404.5,112.9 L1406.0,107.4 L1407.5,102.5 L1409.0,98.3 L1410.5,94.9 L1412.0,92.1 L1413.5,90.0 L1415.0,88.6 L1416.5,87.8 L1418.0,87.7 L1419.5,88.3 L1421.0,89.6 L1422.5,91.7 L1424.0,94.6 L1425.5,98.6 L1427.0,104.0 L1428.5,111.3 L1430.0,119.7 L1431.5,128.7 L1433.0,137.7 L1434.5,146.3 L1436.0,155.1 L1437.5,164.6 L1439.0,175.3 L1440.5,187.0 L1442.0,199.3 L1443.5,211.4 L1445.0,223.2 L1446.5,234.5 L1448.0,245.5 L1449.5,255.9 L1451.0,265.7 L1452.5,274.9 L1454.0,283.3 L1455.5,290.7 L1457.0,297.0 L1458.5,302.1 L1460.0,305.7 L1461.5,307.8 L1463.0,308.1 L1464.5,306.6 L1466.0,303.6 L1467.5,299.4 L1469.0,294.3 L1470.5,288.5 L1472.0,282.2 L1473.5,275.1 L1475.0,267.3 L1476.5,258.8 L1478.0,249.6 L1479.5,240.1 L1481.0,230.3 L1482.5,220.5 L1484.0,210.7 L1485.5,200.8 L1487.0,191.1 L1488.5,181.4 L1490.0,171.7 L1491.5,162.1 L1493.0,152.6 L1494.5,143.4 L1496.0,134.9 L1497.5,127.8 L1499.0,122.0 L1500.5,117.3 L1502.0,113.5 L1503.5,110.5 L1505.0,108.0 L1506.5,106.0 L1508.0,104.5 L1509.5,103.3 L1511.0,102.5 L1512.5,102.3 L1514.0,102.6 L1515.5,103.7 L1517.0,105.4 L1518.5,107.7 L1520.0,110.4 L1521.5,113.5 L1523.0,117.3 L1524.5,121.9 L1526.0,127.5 L1527.5,134.3 L1529.0,142.2 L1530.5,150.8 L1532.0,159.8 L1533.5,169.1 L1535.0,178.4 L1536.5,187.9 L1538.0,197.6 L1539.5,207.3 L1541.0,217.0 L1542.5,226.8 L1544.0,236.6 L1545.5,246.1 L1547.0,255.3 L1548.5,264.1 L1550.0,272.3 L1551.5,279.8 L1553.0,286.6 L1554.5,292.4 L1556.0,297.4 L1557.5,301.4 L1559.0,304.6 L1560.5,306.9 L1562.0,308.4 L1563.5,309.1 L1565.0,309.0 L1566.5,308.1 L1568.0,306.4 L1569.5,304.0 L1571.0,300.8 L1572.5,296.9 L1574.0,292.2 L1575.5,286.9 L1577.0,280.8 L1578.5,274.0 L1580.0,266.6 L1581.5,258.5 L1583.0,249.9 L1584.5,240.6 L1586.0,230.8 L1587.5,220.6 L1589.0,210.0 L1590.5,199.6 L1592.0,189.4 L1593.5,179.8 L1595.0,170.8 L1596.5,162.5 L1598.0,155.0 L1599.5,148.2 L1601.0,141.9 L1602.5,135.8 L1604.0,129.7 L1605.5,123.2 L1607.0,116.7 L1608.5,110.5 L1610.0,104.9 L1611.5,100.1 L1613.0,96.2 L1614.5,93.2 L1616.0,91.0 L1617.5,89.7 L1619.0,89.1 L1620.5,89.2 L1622.0,90.0 L1623.5,91.5 L1625.0,93.6 L1626.5,96.4 L1628.0,99.7 L1629.5,103.5 L1631.0,107.9 L1632.5,112.8 L1634.0,118.1 L1635.5,123.7 L1637.0,129.7 L1638.5,136.1 L1640.0,142.6 L1641.5,149.4 L1643.0,156.4 L1644.5,163.5 L1646.0,170.7 L1647.5,178.0 L1649.0,185.5 L1650.5,193.1 L1652.0,200.6 L1653.5,207.8 L1655.0,214.4 L1656.5,220.2 L1658.0,225.3 L1659.5,229.7 L1661.0,233.3 L1662.5,236.3 L1664.0,238.7 L1665.5,240.5 L1667.0,241.7 L1668.5,242.3 L1670.0,242.3 L1671.5,241.6 L1673.0,240.0 L1674.5,237.4 L1676.0,233.8 L1677.5,229.1 L1679.0,223.3 L1680.5,216.6 L1682.0,209.0 L1683.5,200.7 L1685.0,191.7 L1686.5,182.2 L1688.0,172.3 L1689.5,162.1 L1691.0,151.9 L1692.5,142.1 L1694.0,132.8 L1695.5,124.5 L1697.0,117.1 L1698.5,110.5 L1700.0,104.7 L1701.5,99.7 L1703.0,95.3 L1704.5,91.7 L1706.0,88.8 L1707.5,86.7 L1709.0,85.2 L1710.5,84.5 L1712.0,84.5 L1713.5,85.2 L1715.0,86.6 L1716.5,88.8 L1718.0,91.6 L1719.5,95.2 L1721.0,99.5 L1722.5,104.5 L1724.0,110.1 L1725.5,116.4 L1727.0,123.1 L1728.5,130.4 L1730.0,138.0 L1731.5,146.0 L1733.0,154.2 L1734.5,162.7 L1736.0,171.4 L1737.5,180.4 L1739.0,189.9 L1740.5,199.6 L1742.0,209.5 L1743.5,219.1 L1745.0,228.1 L1746.5,236.3 L1748.0,243.8 L1749.5,250.8 L1751.0,257.8 L1752.5,264.7 L1754.0,271.3 L1755.5,277.1 L1757.0,281.5 L1758.5,284.3 L1760.0,285.3 L1761.5,284.8 L1763.0,282.7 L1764.5,279.2 L1766.0,274.2 L1767.5,268.0 L1769.0,260.9 L1770.5,253.3 L1772.0,245.5 L1773.5,237.7 L1775.0,229.6 L1776.5,220.4 L1778.0,209.7 L1779.5,197.0 L1781.0,183.1 L1782.5,169.1 L1784.0,155.9 L1785.5,144.3 L1787.0,134.4 L1788.5,125.7 L1790.0,118.2 L1791.5,111.4 L1793.0,105.3 L1794.5,100.0 L1796.0,95.3 L1797.5,91.2 L1799.0,87.8 L1800.5,84.9 L1802.0,82.6 L1803.5,80.8 L1805.0,79.6 L1806.5,79.1 L1808.0,79.2 L1809.5,80.2 L1811.0,82.1 L1812.5,84.9 L1814.0,88.6 L1815.5,93.1 L1817.0,98.5 L1818.5,104.6 L1820.0,111.5 L1821.5,119.0 L1823.0,127.1 L1824.5,135.8 L1826.0,145.0 L1827.5,154.5 L1829.0,164.3 L1830.5,174.2 L1832.0,184.1 L1833.5,193.9 L1835.0,203.5 L1836.5,212.8 L1838.0,221.9 L1839.5,230.7 L1841.0,239.4 L1842.5,248.0 L1844.0,256.4 L1845.5,264.7 L1847.0,272.7 L1848.5,280.3 L1850.0,287.1 L1851.5,292.7 L1853.0,296.5 L1854.5,298.3 L1856.0,298.3 L1857.5,296.7 L1859.0,293.7 L1860.5,289.4 L1862.0,284.2 L1863.5,278.1 L1865.0,271.4 L1866.5,264.2 L1868.0,256.6 L1869.5,248.8 L1871.0,240.3 L1872.5,230.7 L1874.0,220.2 L1875.5,209.2 L1877.0,198.8 L1878.5,190.0 L1880.0,182.4 L1881.5,175.8 L1883.0,169.8 L1884.5,164.6 L1886.0,160.1 L1887.5,156.2 L1889.0,153.0 L1890.5,150.4 L1892.0,148.4 L1893.5,146.9 L1895.0,145.9 L1896.5,145.6 L1898.0,145.9 L1899.5,146.8 L1901.0,148.3 L1902.5,150.4 L1904.0,153.2 L1905.5,156.6 L1907.0,160.6 L1908.5,165.0 L1910.0,170.0 L1911.5,175.5 L1913.0,181.4 L1914.5,187.7 L1916.0,194.4 L1917.5,201.5 L1919.0,208.8 L1920.5,216.5 L1922.0,224.5 L1923.5,232.6 L1925.0,241.1 L1926.5,249.9 L1928.0,259.0 L1929.5,268.6 L1931.0,278.6 L1932.5,289.1 L1934.0,300.1 L1935.5,311.7 L1937.0,323.7 L1938.5,335.9 L1940.0,348.1 L1941.5,360.2 L1942.0,364.2" fill="none" stroke="#0E70B4" stroke-width="4.0" stroke-linecap="round" stroke-linejoin="round"/>
<line x1="1222.3" y1="217.1" x2="1910.5" y2="217.1" stroke="#A8520C" stroke-width="3.2" stroke-dasharray="18.8 10.8" stroke-dashoffset="11.2"/>
<text transform="translate(1193.8,33.6) scale(1.0,1)" font-size="33.3" text-anchor="end" >180</text>
<text transform="translate(1193.8,172.0) scale(1.0,1)" font-size="33.3" text-anchor="end" >165</text>
<text transform="translate(1193.8,311.0) scale(1.0,1)" font-size="33.3" text-anchor="end" >150</text>
<text transform="translate(1193.8,450.5) scale(1.0,1)" font-size="33.3" text-anchor="end" >135</text>
<text transform="translate(1193.8,589.6999999999999) scale(1.0,1)" font-size="33.3" text-anchor="end" >120</text>
<text transform="translate(2008,79.3) scale(1.0,1)" font-size="33.3" text-anchor="start" >75</text>
<text transform="translate(2008,218.2) scale(1.0,1)" font-size="33.3" text-anchor="start" >60</text>
<text transform="translate(2008,357.5) scale(1.0,1)" font-size="33.3" text-anchor="start" >45</text>
<text transform="translate(2008,496.5) scale(1.0,1)" font-size="33.3" text-anchor="start" >30</text>
<text transform="translate(1224,634) scale(0.985,1)" font-size="33.3" text-anchor="middle" >0</text>
<text transform="translate(1412.6,634) scale(0.985,1)" font-size="33.3" text-anchor="middle" >500</text>
<text transform="translate(1601,634) scale(0.985,1)" font-size="33.3" text-anchor="middle" >1000</text>
<text transform="translate(1791,634) scale(0.985,1)" font-size="33.3" text-anchor="middle" >1500</text>
<text transform="translate(1978,634) scale(0.985,1)" font-size="33.3" text-anchor="middle" >2000</text>
<text transform="translate(1600.6,696) scale(0.995,1)" font-size="33.3" text-anchor="middle" >Displacement(μm)</text>
<text font-size="34" aria-label="（b）"><tspan x="1057.4" y="690.2" font-family='"Noto Serif CJK SC","Liberation Serif",serif' font-size="28.2" textLength="33" lengthAdjust="spacingAndGlyphs">（</tspan><tspan x="1092" y="692.4">b</tspan><tspan x="1111.9" y="690.2" font-family='"Noto Serif CJK SC","Liberation Serif",serif' font-size="28.2" textLength="33" lengthAdjust="spacingAndGlyphs">）</tspan></text>
<text transform="translate(1120.3,410.3) rotate(-90) scale(1,1.1)" font-size="32" aria-label="Velocity（μm）"><tspan x="0" y="0">Velocity</tspan><tspan x="110.3" y="-1.2" font-family='"Noto Serif CJK SC","Liberation Serif",serif' font-size="26.5" textLength="33" lengthAdjust="spacingAndGlyphs">（</tspan><tspan x="144.1" y="0" font-size="33.6">μm</tspan><tspan x="191.9" y="-1.2" font-family='"Noto Serif CJK SC","Liberation Serif",serif' font-size="26.5" textLength="33" lengthAdjust="spacingAndGlyphs">）</tspan></text>
<text transform="translate(2088.3,411.5) rotate(-90) scale(1,1.1)" font-size="32" aria-label="Velocity（μm）"><tspan x="0" y="0">Velocity</tspan><tspan x="110.3" y="-1.2" font-family='"Noto Serif CJK SC","Liberation Serif",serif' font-size="26.5" textLength="33" lengthAdjust="spacingAndGlyphs">（</tspan><tspan x="144.1" y="0" font-size="33.6">μm</tspan><tspan x="191.9" y="-1.2" font-family='"Noto Serif CJK SC","Liberation Serif",serif' font-size="26.5" textLength="33" lengthAdjust="spacingAndGlyphs">）</tspan></text>
<text transform="translate(1390.6,32.1) scale(1.075,1)" font-size="30.4" text-anchor="start" >Slow feed</text>
<path d="M1373.9,18.5 L1334,39.5" stroke="#000" stroke-width="3.5" fill="none" stroke-linecap="round"/>
<path d="M1318.6,48.8 L1332.6,28.6 L1343.8,47.6 Z" fill="#000"/>
<text transform="translate(1343.3,424.3) scale(1.07,1)" font-size="30.3" text-anchor="start" fill="#C00000" >Rapid feed</text>
<path d="M1337,385.5 L1312,344" stroke="#C00000" stroke-width="3.3" fill="none" stroke-linecap="round"/>
<path d="M1302.4,327.8 L1304.7,350.5 L1323.5,339.9 Z" fill="#C00000"/>
<rect x="1791" y="469.1" width="169.0" height="62.7" fill="#fff" stroke="#000" stroke-width="2.3"/>
<line x1="1795.2" y1="485.7" x2="1848.3" y2="485.7" stroke="#CC0000" stroke-width="4.2" stroke-linecap="round"/>
<line x1="1795.2" y1="514.8" x2="1848.3" y2="514.8" stroke="#0E70B4" stroke-width="4.2" stroke-linecap="round"/>
<text y="495.4" font-size="27.4" text-anchor="middle" aria-label="160um/s"><tspan x="1868.5">1</tspan><tspan x="1882.1">6</tspan><tspan x="1895.7">0</tspan><tspan x="1909.3">u</tspan><tspan x="1922.9" textLength="15.2" lengthAdjust="spacingAndGlyphs">m</tspan><tspan x="1936.5" font-size="30.5" textLength="11.2" lengthAdjust="spacingAndGlyphs" dy="1.4">/</tspan><tspan x="1950.1" textLength="12.3" lengthAdjust="spacingAndGlyphs" dy="-1.4">s</tspan></text>
<text y="524.1" font-size="27.4" text-anchor="middle" aria-label="60um/s"><tspan x="1868.3">6</tspan><tspan x="1882.0">0</tspan><tspan x="1895.6">u</tspan><tspan x="1909.3" textLength="15.2" lengthAdjust="spacingAndGlyphs">m</tspan><tspan x="1922.9" font-size="30.5" textLength="11.2" lengthAdjust="spacingAndGlyphs" dy="1.4">/</tspan><tspan x="1936.6" textLength="12.3" lengthAdjust="spacingAndGlyphs" dy="-1.4">s</tspan></text>
</g>
</svg></body></html>
